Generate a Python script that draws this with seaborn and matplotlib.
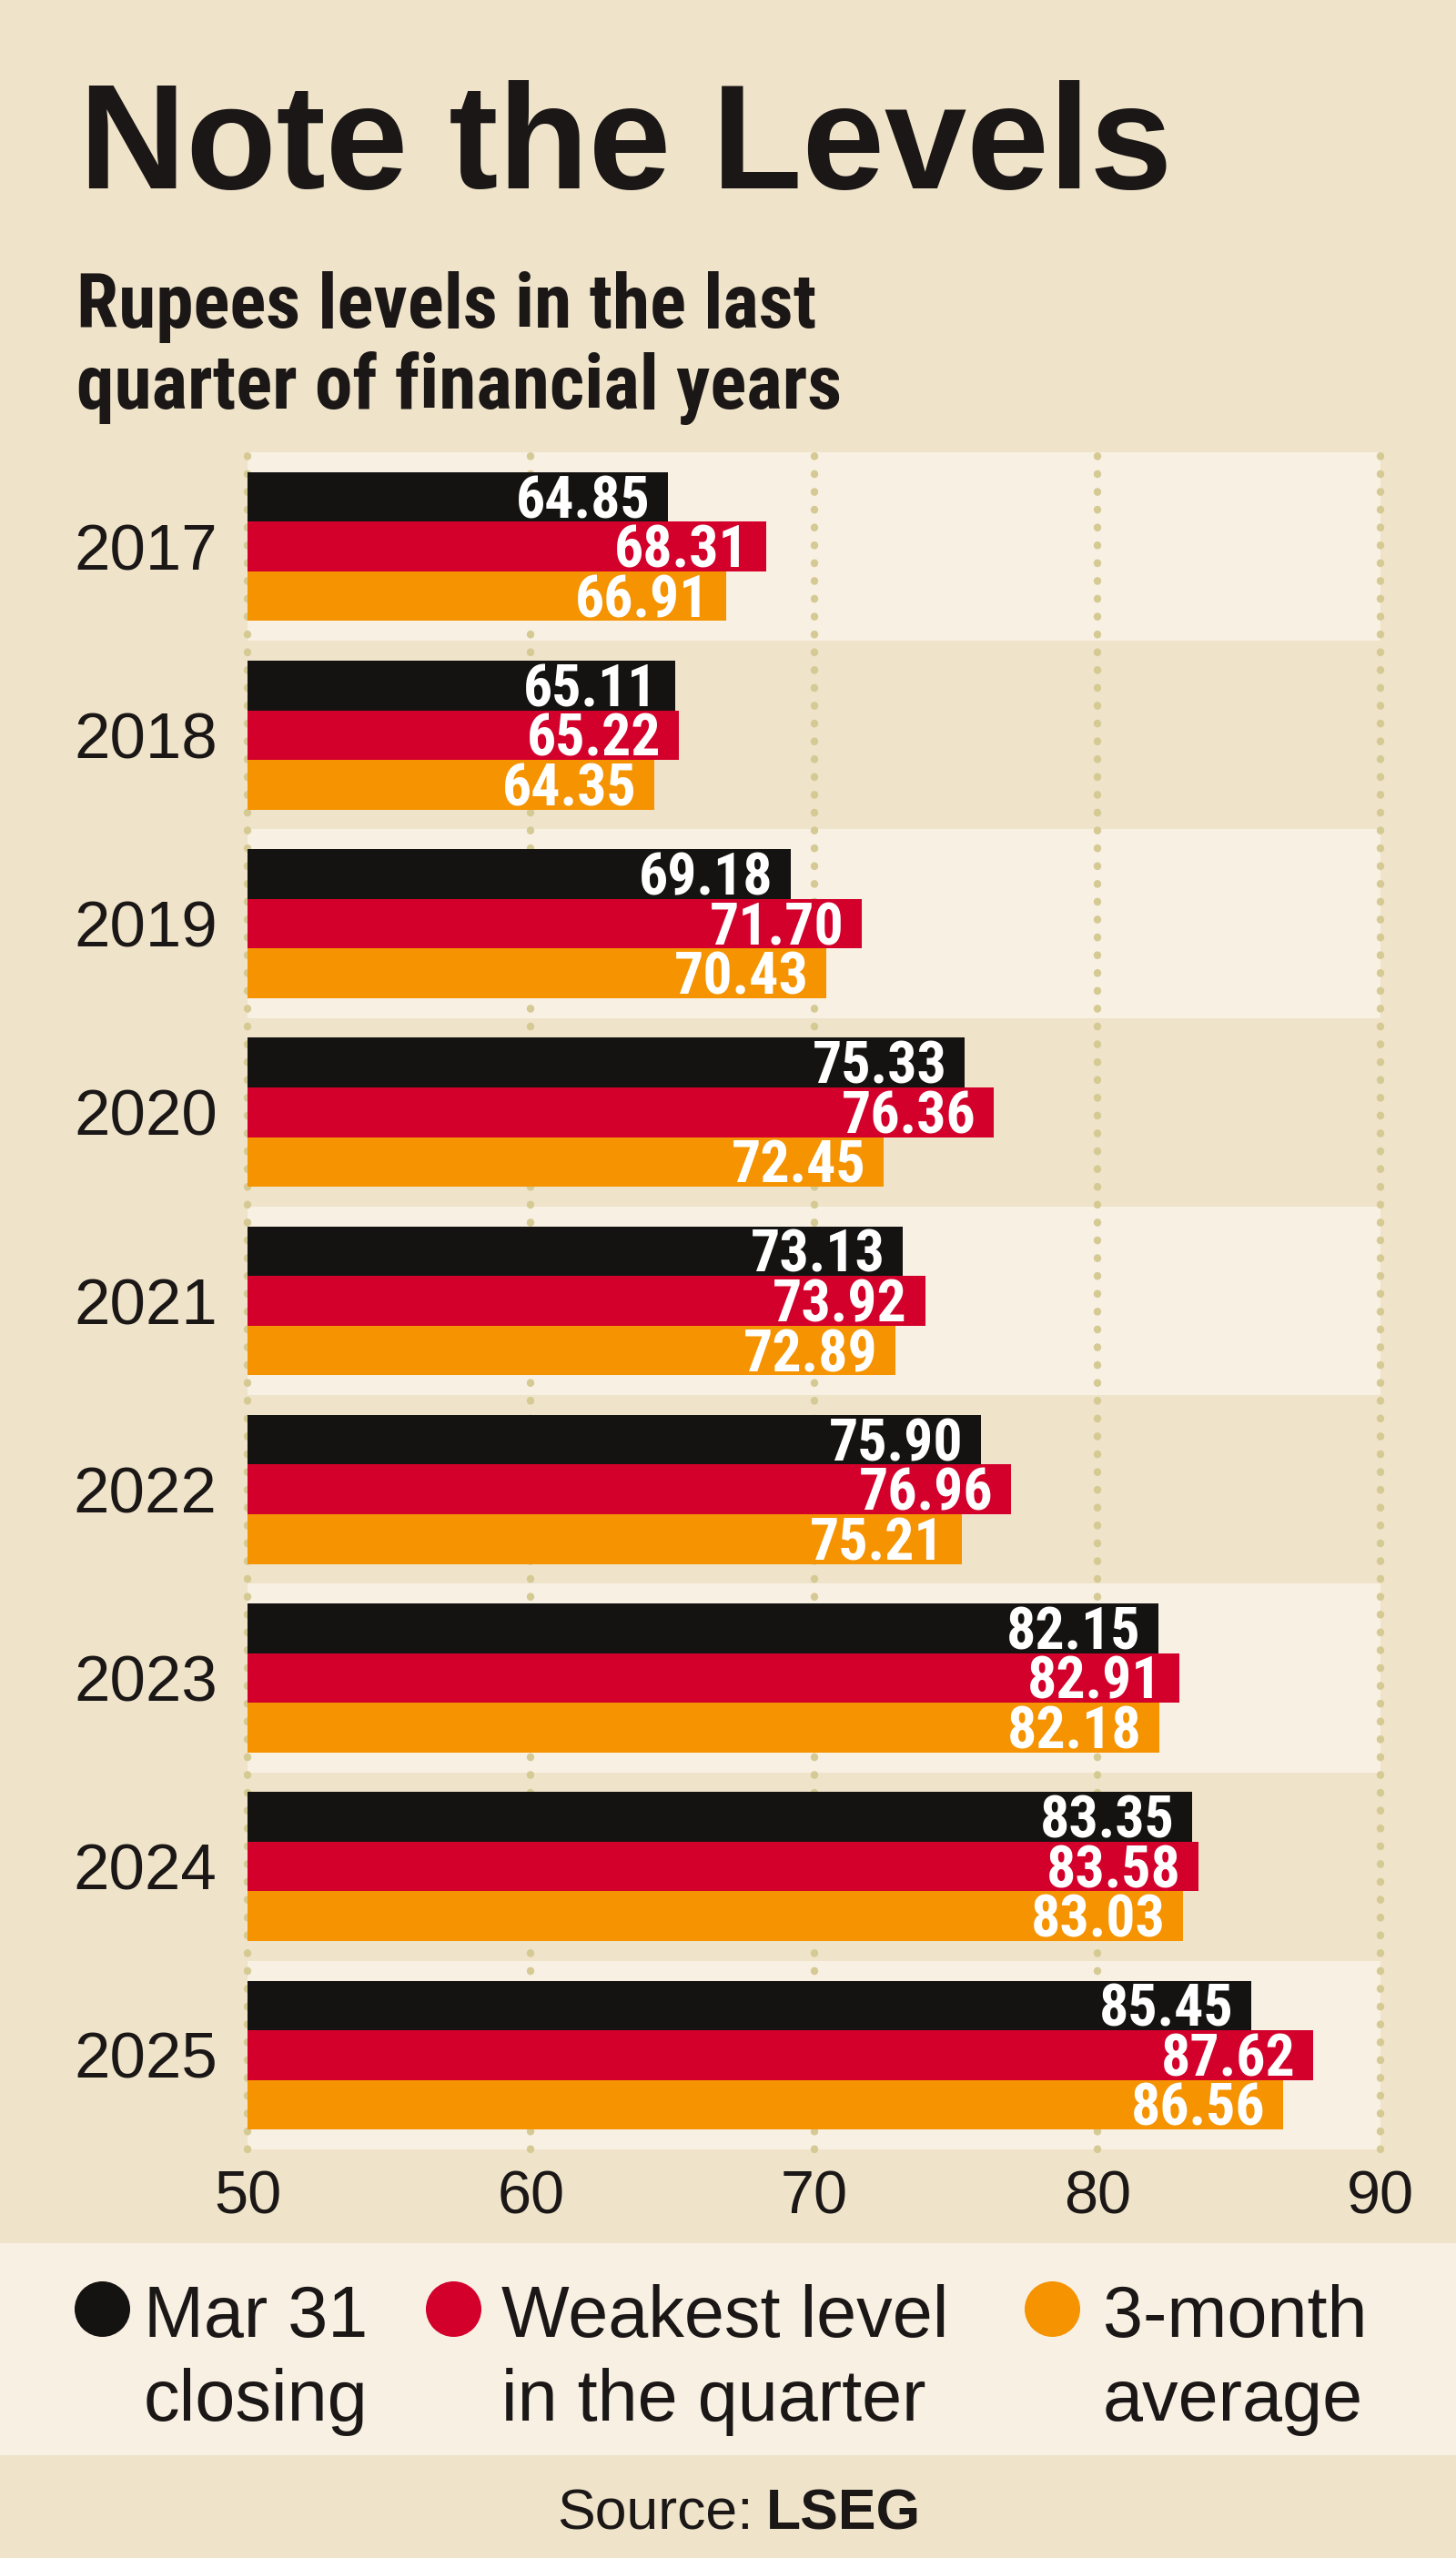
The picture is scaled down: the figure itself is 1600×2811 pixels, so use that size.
import matplotlib
matplotlib.use("Agg")
import matplotlib.pyplot as plt
import seaborn as sns
import pandas as pd
from matplotlib import font_manager as fm

# ---------------- data ----------------
years = ["2017", "2018", "2019", "2020", "2021", "2022", "2023", "2024", "2025"]
mar31_closing = [64.85, 65.11, 69.18, 75.33, 73.13, 75.90, 82.15, 83.35, 85.45]
weakest_level = [68.31, 65.22, 71.70, 76.36, 73.92, 76.96, 82.91, 83.58, 87.62]
three_month_avg = [66.91, 64.35, 70.43, 72.45, 72.89, 75.21, 82.18, 83.03, 86.56]
series_names = ["Mar 31 closing", "Weakest level in the quarter", "3-month average"]
legend_lines = [["Mar 31", "closing"], ["Weakest level", "in the quarter"], ["3-month", "average"]]
x_ticks = [50, 60, 70, 80, 90]

title = "Note the Levels"
subtitle_lines = ["Rupees levels in the last", "quarter of financial years"]
source_label = "Source:"
source_name = "LSEG"

# ---------------- style ----------------
BG = "#efe3c9"
BAND_LIGHT = "#f8f0e3"
BAND_DARK = "#efe3ca"
DOT = "#d5ca93"
INK = "#1a1716"
COLORS = ["#151312", "#d3002b", "#f59300"]

installed = {f.name for f in fm.fontManager.ttflist}


def pick(*names):
    for n in names:
        if n in installed:
            return n
    return "DejaVu Sans"


NARROW = pick("Liberation Sans Narrow", "Roboto Condensed", "DejaVu Sans Condensed")
HAS_NARROW = NARROW != "DejaVu Sans"
SANS = pick("Liberation Sans", "Roboto", "DejaVu Sans")

sns.set_theme(style="white")
plt.rcParams["font.family"] = [SANS, "DejaVu Sans"]

df = pd.DataFrame({
    "year": years * 3,
    "value": mar31_closing + weakest_level + three_month_avg,
    "series": [series_names[0]] * len(years) + [series_names[1]] * len(years) + [series_names[2]] * len(years),
})

W, H = 1600, 2811
fig = plt.figure(figsize=(W / 100, H / 100), dpi=100, facecolor=BG)

ax_top, ax_bot = 497, 2362
ax_left, ax_right = 272, 1517
ax = fig.add_axes([ax_left / W, (H - ax_bot) / H, (ax_right - ax_left) / W, (ax_bot - ax_top) / H])
ax.set_facecolor("none")

sns.barplot(data=df, y="year", x="value", hue="series", hue_order=series_names,
            order=years, orient="h", palette=COLORS, width=0.79, saturation=1,
            linewidth=0, legend=False, ax=ax)

for c in ax.containers:
    for bar in c:
        bar.set_zorder(3)

n = len(years)
for i in range(n):
    ax.axhspan(i - 0.5, i + 0.5, color=BAND_LIGHT if i % 2 == 0 else BAND_DARK, lw=0, zorder=0)

for t in x_ticks:
    ax.axvline(t, color=DOT, lw=6, linestyle=(0, (0.05, 2.3)), dash_capstyle="round",
               zorder=1, clip_on=False)

ax.set_xlim(x_ticks[0], x_ticks[-1])
ax.set_ylim(n - 0.5, -0.5)
ax.set_xticks(x_ticks)
ax.set_xticklabels([str(t) for t in x_ticks])
ax.set_xlabel("")
ax.set_ylabel("")
for s in ax.spines.values():
    s.set_visible(False)
ax.tick_params(axis="y", length=0, pad=24, labelsize=51, labelcolor=INK)
ax.tick_params(axis="x", length=0, pad=16, labelsize=48, labelcolor=INK)

val_font = NARROW if HAS_NARROW else SANS
val_size = 46 if HAS_NARROW else 37
for c in ax.containers:
    for bar in c:
        w = bar.get_width()
        yc = bar.get_y() + bar.get_height() / 2
        ax.annotate(f"{w:.2f}", xy=(w, yc), xytext=(-14, -0.36 * val_size),
                    textcoords="offset points", ha="right", va="baseline",
                    color="white", fontsize=val_size, fontweight="bold",
                    family=[val_font, "DejaVu Sans"], zorder=4)

# ---------------- titles ----------------
fig.text(87 / W, 1 - 207 / H, title, fontsize=117, fontweight="bold", color=INK,
         va="baseline", ha="left", family=[SANS, "DejaVu Sans"])
sub_font = NARROW if HAS_NARROW else SANS
sub_size = 60 if HAS_NARROW else 51
fig.text(84 / W, 1 - 298 / H, "\n".join(subtitle_lines), fontsize=sub_size,
         fontweight="bold", color=INK, va="top", ha="left", linespacing=1.15,
         family=[sub_font, "DejaVu Sans"])

# ---------------- legend band ----------------
lg_top, lg_bot = 2465, 2698
lax = fig.add_axes([0, (H - lg_bot) / H, 1, (lg_bot - lg_top) / H])
lax.set_facecolor(BAND_LIGHT)
lax.set_xlim(0, W)
lax.set_ylim(lg_bot, lg_top)
lax.set_xticks([])
lax.set_yticks([])
for s in lax.spines.values():
    s.set_visible(False)

circle_x = [112, 498, 1156]
text_x = [158, 551, 1212]
for cx, tx, col, lines in zip(circle_x, text_x, COLORS, legend_lines):
    lax.scatter([cx], [2537], s=1930, color=col, linewidths=0)
    for k, line in enumerate(lines):
        lax.text(tx, 2568 + 92 * k, line, fontsize=57, color=INK, va="baseline", ha="left")

# ---------------- source ----------------
fig.text(828 / W, 1 - 2780 / H, source_label, fontsize=45, color=INK,
         ha="right", va="baseline")
fig.text(842 / W, 1 - 2780 / H, source_name, fontsize=45, color=INK, fontweight="bold",
         ha="left", va="baseline")

fig.savefig("out.png", dpi=100, facecolor=BG)
